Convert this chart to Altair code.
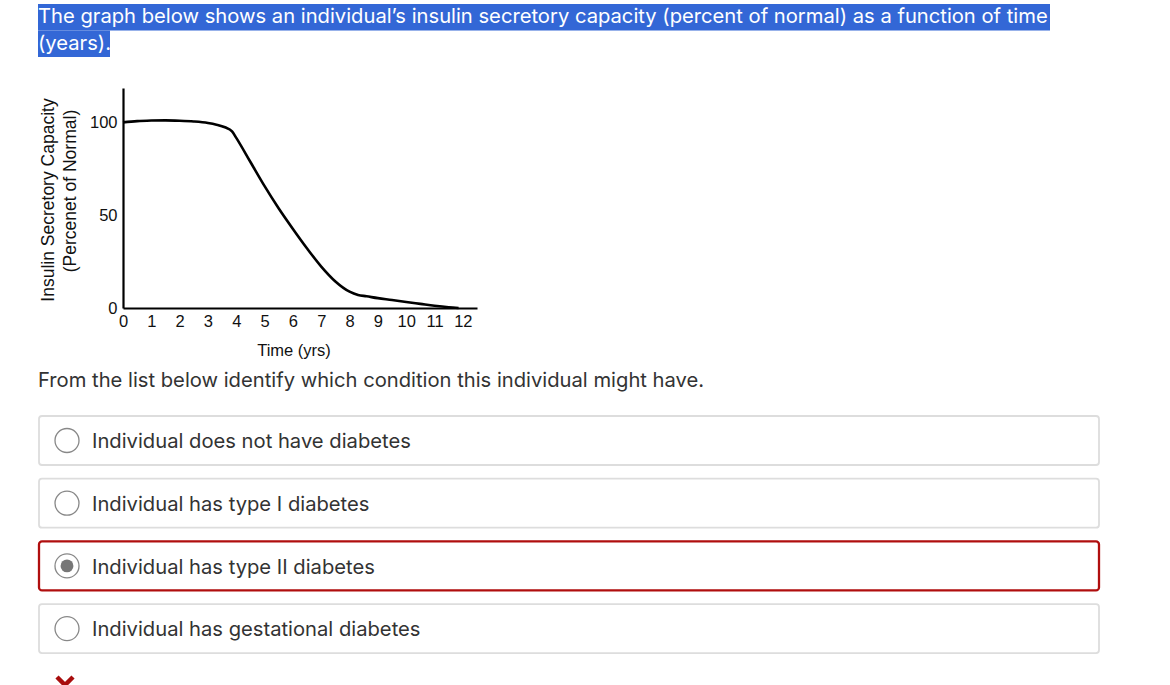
import altair as alt
import pandas as pd

# ---- data ----
years = [0, 0.5, 1, 1.5, 2, 2.5, 3, 3.3, 3.6, 3.85, 4, 4.5, 5, 5.5, 6, 6.5, 7,
         7.5, 8, 8.3, 8.6, 9, 9.5, 10, 10.5, 11, 11.5, 11.85]
capacity = [99.8, 100.5, 100.8, 100.9, 100.7, 100.3, 99.5, 98.6, 97.2, 95.0, 91.5,
            78.5, 65.5, 53.5, 42.5, 32.0, 22.3, 14.3, 8.8, 7.0, 6.3, 5.3, 4.3, 3.2,
            2.2, 1.2, 0.4, 0.0]
x_ticks = list(range(0, 13))
y_ticks = [0, 50, 100]
x_title = "Time (yrs)"
y_title = ["Insulin Secretory Capacity", "(Percenet of Normal)"]
question_lines = [
    "The graph below shows an individual\u2019s insulin secretory capacity (percent of normal) as a function of time",
    "(years).",
]
prompt = "From the list below identify which condition this individual might have."
options = [
    "Individual does not have diabetes",
    "Individual has type I diabetes",
    "Individual has type II diabetes",
    "Individual has gestational diabetes",
]
selected = 2

# ---- layout ----
LEFT, TOP = 123, 88
PW, PH = 354, 220
W, H = 1170, 685
PAGE_FONT = "Inter"
PAGE_SIZE = 20.2


def px(v):
    return v - LEFT


def py(v):
    return v - TOP


one = alt.Data(values=[{}])
layers = []

# highlighted question text
hl = [(38, 1050, 4, 30.5), (38, 110, 30.5, 57)]
for (x0, x1, y0, y1), line, base in zip(hl, question_lines, [23.3, 50.3]):
    layers.append(alt.Chart(one).mark_rect(color="#3367d6").encode(
        x=alt.value(px(x0)), x2=alt.value(px(x1)),
        y=alt.value(py(y0)), y2=alt.value(py(y1))))
    layers.append(alt.Chart(one).mark_text(
        align="left", baseline="alphabetic", font=PAGE_FONT, fontSize=PAGE_SIZE,
        color="white").encode(
        x=alt.value(px(38)), y=alt.value(py(base)), text=alt.value(line)))

# prompt
layers.append(alt.Chart(one).mark_text(
    align="left", baseline="alphabetic", font=PAGE_FONT, fontSize=PAGE_SIZE,
    color="#333333").encode(
    x=alt.value(px(38)), y=alt.value(py(386.5)), text=alt.value(prompt)))

# options
for i, label in enumerate(options):
    top = 416 + i * 62.7
    bot = top + 49
    cy = (top + bot) / 2
    is_sel = i == selected
    layers.append(alt.Chart(one).mark_rect(
        fill="white", stroke="#b00e0e" if is_sel else "#dddddd",
        strokeWidth=2.3 if is_sel else 1.8, cornerRadius=3).encode(
        x=alt.value(px(39)), x2=alt.value(px(1099)),
        y=alt.value(py(top)), y2=alt.value(py(bot))))
    layers.append(alt.Chart(one).mark_point(
        shape="circle", size=576, filled=False, fill="white",
        stroke="#888888", strokeWidth=1.3, opacity=1).encode(
        x=alt.value(px(67)), y=alt.value(py(cy))))
    if is_sel:
        layers.append(alt.Chart(one).mark_point(
            shape="circle", size=165, filled=True, color="#777777",
            opacity=1).encode(x=alt.value(px(67)), y=alt.value(py(cy))))
    layers.append(alt.Chart(one).mark_text(
        align="left", baseline="alphabetic", font=PAGE_FONT, fontSize=PAGE_SIZE,
        color="#333333").encode(
        x=alt.value(px(92)), y=alt.value(py(cy + 7.8)), text=alt.value(label)))

# red chevron (cut off at bottom)
layers.append(alt.Chart(one).mark_point(
    shape="M-1,-0.5L0,0.5L1,-0.5", size=256, filled=False,
    stroke="#a80d0d", strokeWidth=4.5, opacity=1).encode(
    x=alt.value(px(65)), y=alt.value(py(681))))

# axis titles
layers.append(alt.Chart(one).mark_text(
    font="Liberation Sans", fontSize=16.5, color="#111111",
    align="center", baseline="middle").encode(
    x=alt.value(px(294)), y=alt.value(py(350.5)), text=alt.value(x_title)))
for xc, yc, t in zip([48.5, 70.5], [200, 191], y_title):
    layers.append(alt.Chart(one).mark_text(
        font="Liberation Sans", fontSize=17.5, color="#111111", angle=270,
        align="center", baseline="middle").encode(
        x=alt.value(px(xc)), y=alt.value(py(yc)), text=alt.value(t)))

# the curve
df = pd.DataFrame({"t": years, "c": capacity})
curve = alt.Chart(df).mark_line(
    color="black", strokeWidth=2.6, interpolate="monotone").encode(
    x=alt.X("t:Q", scale=alt.Scale(domain=[0, 12.5], nice=False, zero=False),
            axis=alt.Axis(values=x_ticks, title=None, ticks=False, grid=False,
                          labelFont="Liberation Sans", labelFontSize=16.5,
                          labelColor="#111111", labelPadding=5,
                          domainColor="black", domainWidth=2.2,
                          labelFlush=False, labelOverlap=False)),
    y=alt.Y("c:Q", scale=alt.Scale(domain=[0, 118.3], nice=False),
            axis=alt.Axis(values=y_ticks, title=None, ticks=False, grid=False,
                          labelFont="Liberation Sans", labelFontSize=16.5,
                          labelColor="#111111", labelPadding=6,
                          domainColor="black", domainWidth=2.2,
                          labelFlush=False, labelOverlap=False)),
)
layers.append(curve)

chart = alt.layer(*layers).properties(
    width=PW, height=PH,
    autosize=alt.AutoSizeParams(type="none"),
    padding={"left": LEFT, "top": TOP, "right": W - LEFT - PW,
             "bottom": H - TOP - PH},
    background="white",
).configure_view(stroke=None)

chart.save("out.html", embed_options={"renderer": "svg", "actions": False})
